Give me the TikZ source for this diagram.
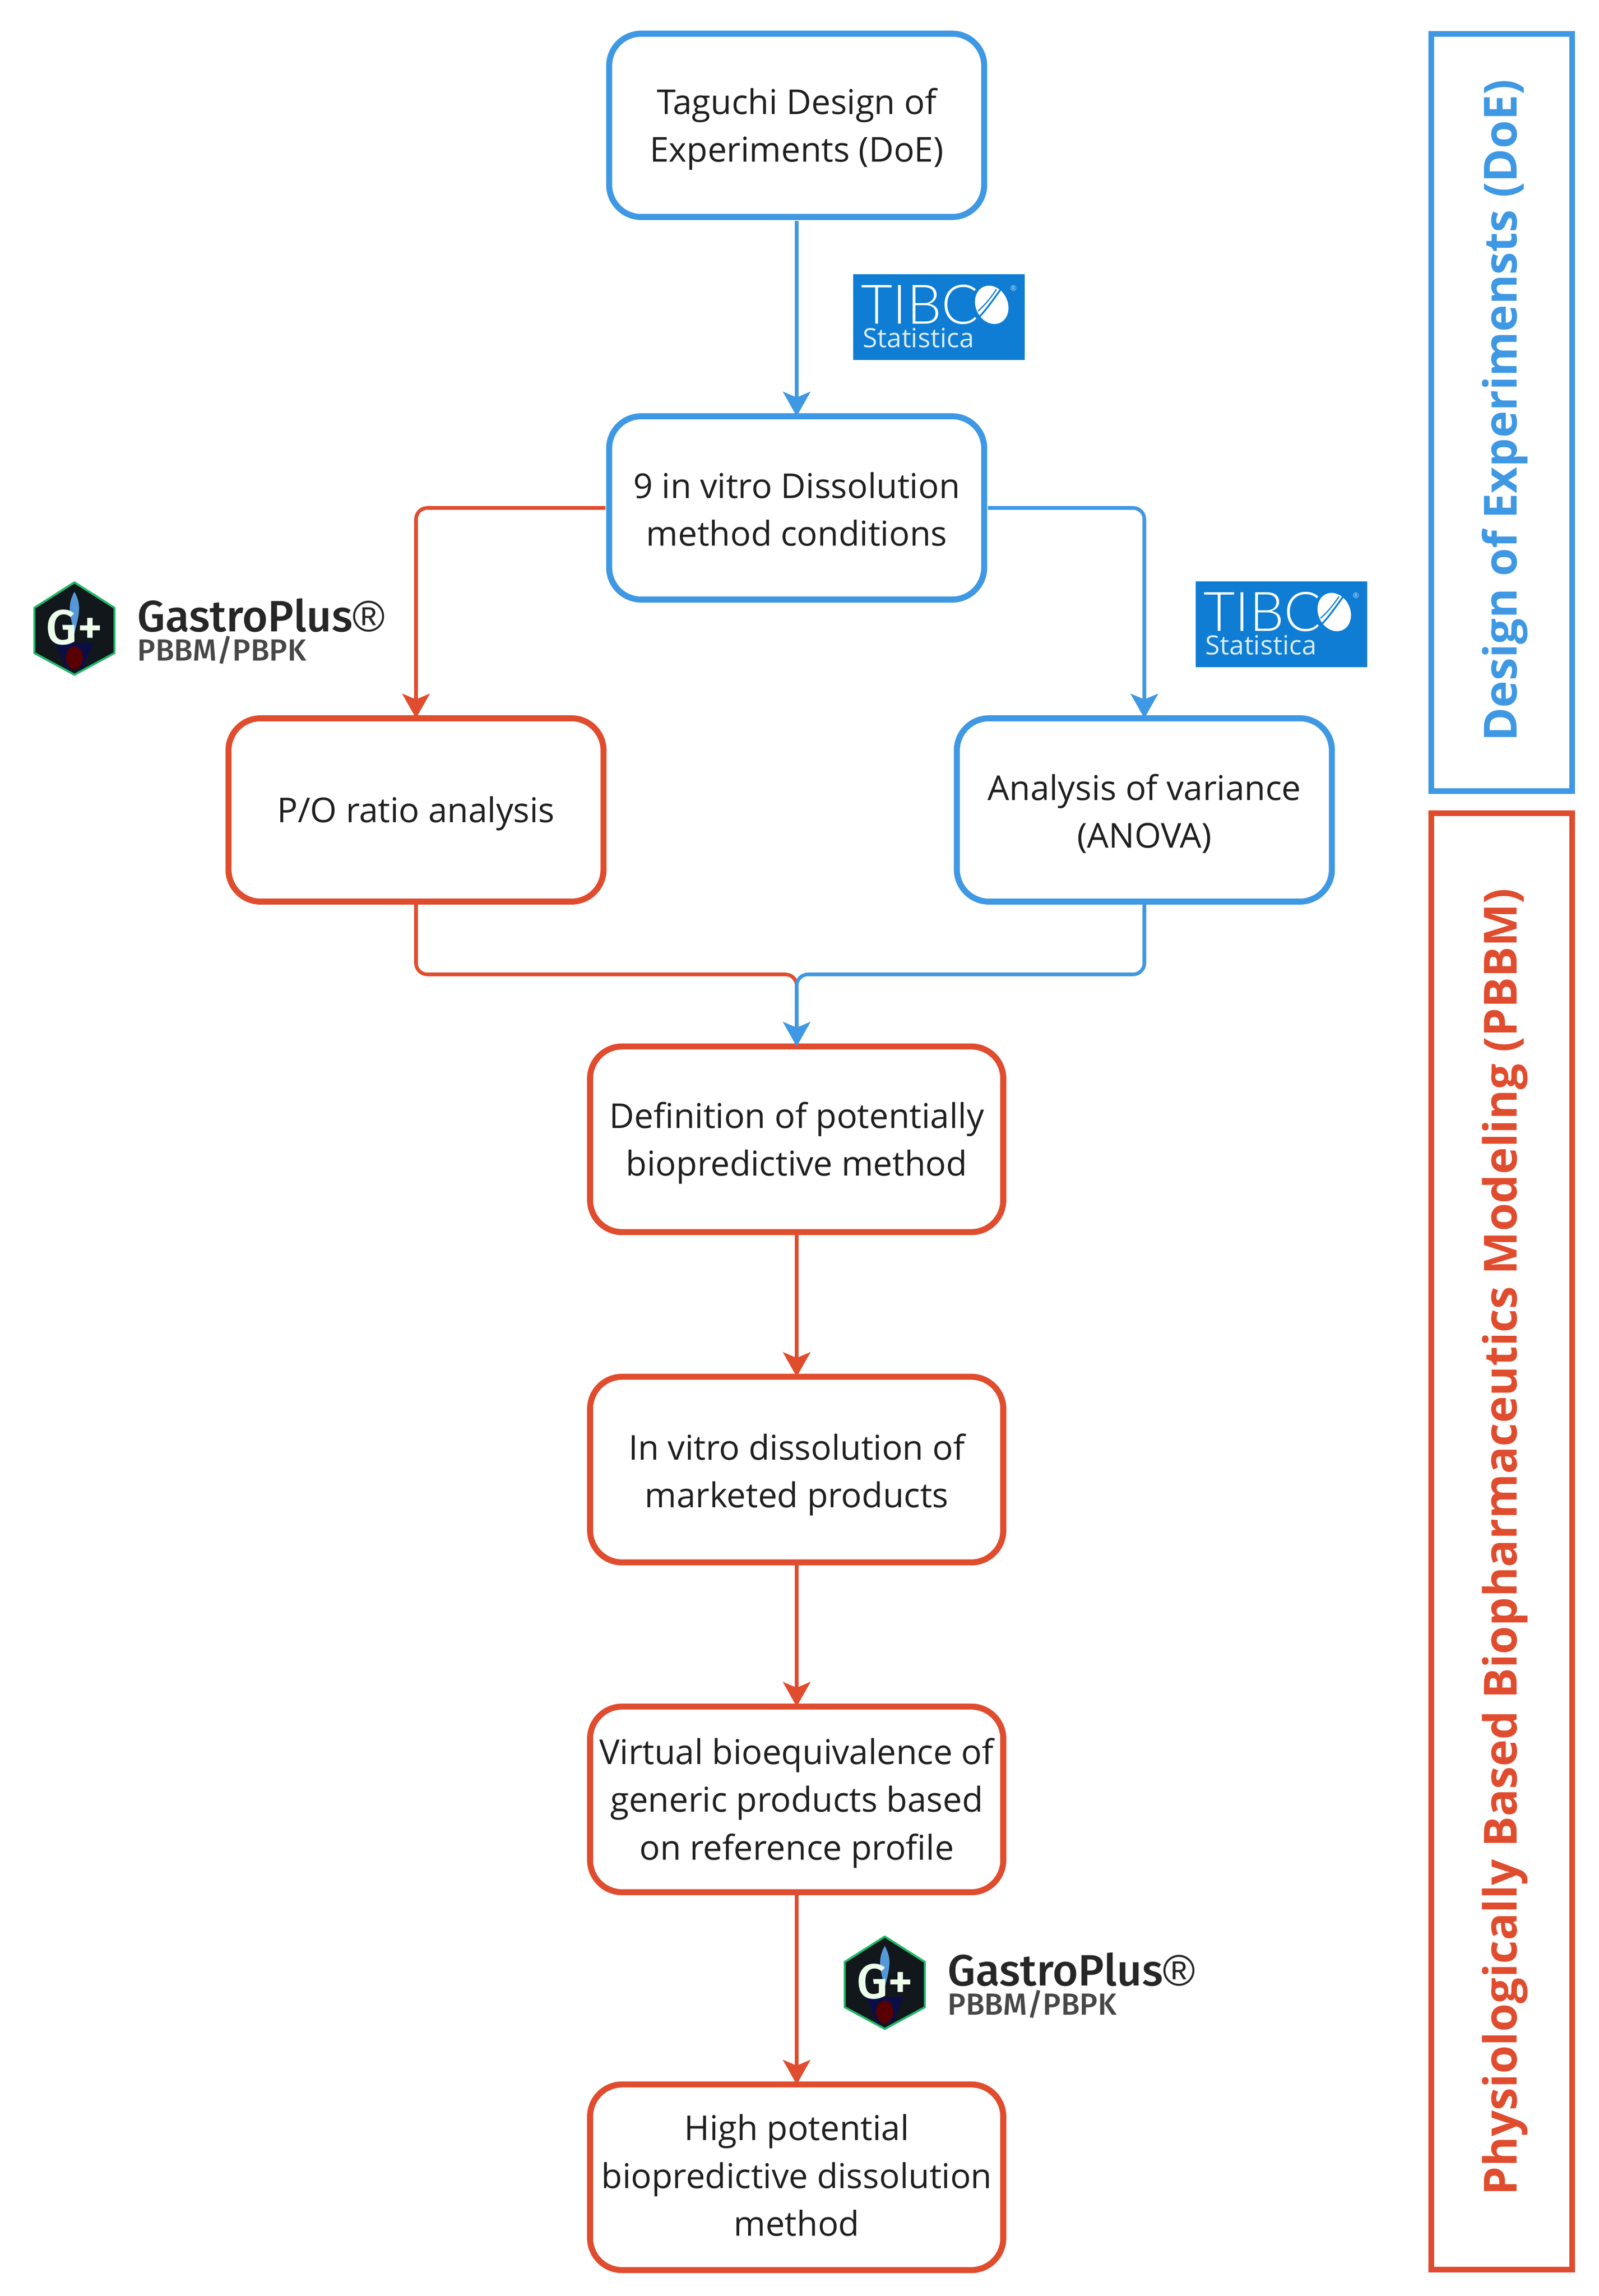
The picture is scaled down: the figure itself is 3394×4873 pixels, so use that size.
\documentclass[tikz,border=0pt]{standalone}
\usepackage{fontspec}
\setmainfont{Open Sans}
\newfontfamily\gpfont{Fira Sans}[UprightFont=* Medium]
\newfontfamily\regfont{Liberation Sans}
\newfontfamily\tibcofont{Lato}[UprightFont=* Light]
\usetikzlibrary{arrows.meta}
\definecolor{bluec}{HTML}{3F98E3}
\definecolor{redc}{HTML}{E04C2E}
\definecolor{tibcoc}{HTML}{0E7DD3}
\definecolor{gpgreen}{HTML}{1FB868}
\definecolor{gpdark}{HTML}{12171C}
\newcommand{\topstrut}{\rule{0pt}{19.4pt}}
\newcommand{\botstrut}{\rule[-6pt]{0pt}{6pt}}
\tikzset{
  x=0.25pt,y=-0.25pt,
  flowbox/.style={rectangle,rounded corners=17pt,line width=3.2pt,outer sep=0pt,fill=white,
    align=center,font=\fontsize{18.15}{25.3}\selectfont,text=black!88,inner sep=0pt},
  boxb/.style={flowbox,draw=bluec,minimum width=199pt,minimum height=97.25pt},
  boxr/.style={flowbox,draw=redc,minimum width=199pt,minimum height=97.25pt},
  boxw/.style={flowbox,draw=redc,minimum width=219.25pt,minimum height=98.5pt},
  sidebox/.style={rectangle,line width=3.2pt,outer sep=0pt,inner sep=0pt,minimum width=74.75pt},
  sidetext/.style={rotate=90,font=\fontsize{24.2}{28}\bfseries\selectfont,inner sep=0pt},
  conn/.style={line width=1.9pt,rounded corners=6pt},
  arrowed/.style={-{Stealth[length=13pt,width=14.5pt,inset=3pt]}},
  lineb/.style={conn,draw=bluec},
  liner/.style={conn,draw=redc},
  gapped/.style={shorten <=2pt},
}
\newcommand{\tibcologo}[3]{%
  \begin{scope}[shift={(#1,#2)}]
    \fill[tibcoc] (0,0) rectangle (364,182);
    \node[anchor=base west,inner sep=0pt,text=white,font=\tibcofont\fontsize{29}{29}\selectfont] (#3t) at (16,105) {TIBC};
    \node[anchor=base west,inner sep=0pt,text=white!85!tibcoc,font=\fontsize{14.1}{14.1}\selectfont] (#3s) at (20,155) {Statistica};
    \fill[white,rotate around={25:(294,65)}] (294,65) ellipse [x radius=34,y radius=42];
    \draw[tibcoc,line width=0.9pt] (258,100) .. controls (280,80) and (300,50) .. (318,25);
    \draw[tibcoc,line width=0.6pt] (265,78) .. controls (280,65) and (292,50) .. (304,32);
    \node[inner sep=0pt,text=white!80!tibcoc,font=\fontsize{4}{4}\selectfont] (#3r) at (340,30) {®};
  \end{scope}}
\newcommand{\gplogo}[3]{%
  \begin{scope}[shift={(#1,#2)}]
    \fill[gpdark,draw=gpgreen,line width=1.1pt,line join=round] (0,-98) -- (85,-44) -- (85,52) -- (0,98) -- (-85,52) -- (-85,-44) -- cycle;
    \fill[black!50!blue!40!gpdark] (-40,30) -- (40,30) -- (18,85) -- (-18,85) -- cycle;
    \fill[red!35!black] (0,62) ellipse [x radius=18,y radius=24];
    \fill[cyan!60!blue!70!white] (0,-78) .. controls (-16,-50) and (-10,-30) .. (0,10) .. controls (10,-30) and (16,-50) .. (0,-78) -- cycle;
    \node[inner sep=0pt,text=green!8!white,font=\gpfont\fontsize{26}{26}\selectfont] (#3g) at (0,-2) {G+};
    \node[anchor=base west,inner sep=0pt,text=black!85,font=\gpfont\fontsize{23.3}{23.3}\selectfont] (#3n) at (133,6) {GastroPlus{\regfont ®}};
    \node[anchor=base west,inner sep=0pt,text=black!72,font=\gpfont\fontsize{16.2}{16.2}\selectfont] (#3p) at (133,68) {PBBM/PBPK};
  \end{scope}}
\begin{document}
\begin{tikzpicture}
\useasboundingbox (0,0) rectangle (3394,4873);
\fill[white] (0,0) rectangle (3394,4873);

% side panels
\node[sidebox,draw=bluec,minimum height=401.75pt] (sideb) at (3187.5,875.5) {};
\node[sidebox,draw=redc,minimum height=772.75pt] (sider) at (3187.5,3271.5) {};
\node[sidetext,text=bluec] (sidebt) at (3194,871) {Design of Experimensts (DoE)};
\node[sidetext,text=redc] (sidert) at (3194,3272) {Physiologically Based Biopharmaceutics Modeling (PBBM)};

% boxes
\node[boxb] (doe) at (1691,266) {\topstrut Taguchi Design of\\Experiments (DoE)\botstrut};
\node[boxb] (cond) at (1691,1078) {\rule{0pt}{21pt}9 in vitro Dissolution\\method conditions\botstrut};
\node[boxr] (po) at (883,1719) {\rule{0pt}{19pt}P/O ratio analysis\botstrut};
\node[boxb] (anova) at (2429,1719) {\rule{0pt}{21pt}Analysis of variance\\(ANOVA)\botstrut};
\node[boxw] (def) at (1691,2418) {\topstrut Definition of potentially\\biopredictive method\botstrut};
\node[boxw] (vitro) at (1691,3119) {\rule{0pt}{21pt}In vitro dissolution of\\marketed products\botstrut};
\node[boxw] (virt) at (1691,3819) {\topstrut Virtual bioequivalence of\\generic products based\\on reference profile\botstrut};
\node[boxw] (high) at (1691,4621) {\rule{0pt}{17.5pt}High potential\\biopredictive dissolution\\method\botstrut};

% connectors
\coordinate (merge) at (1691,2068);
\draw[lineb,arrowed,gapped] (doe.south) -- (cond.north);
\draw[liner,arrowed,gapped] (cond.west) -| (po.north);
\draw[lineb,arrowed,gapped] (cond.east) -| (anova.north);
\draw[liner] (po.south) |- (merge) -- (def.north);
\draw[lineb,arrowed] (anova.south) |- (merge) -- (def.north);
\draw[liner,arrowed] (def.south) -- (vitro.north);
\draw[liner,arrowed] (vitro.south) -- (virt.north);
\draw[liner,arrowed] (virt.south) -- (high.north);

% logos
\tibcologo{1811}{582}{tibA}
\tibcologo{2538}{1234}{tibB}
\gplogo{158}{1334}{gpA}
\gplogo{1878}{4208}{gpB}
\end{tikzpicture}
\end{document}
